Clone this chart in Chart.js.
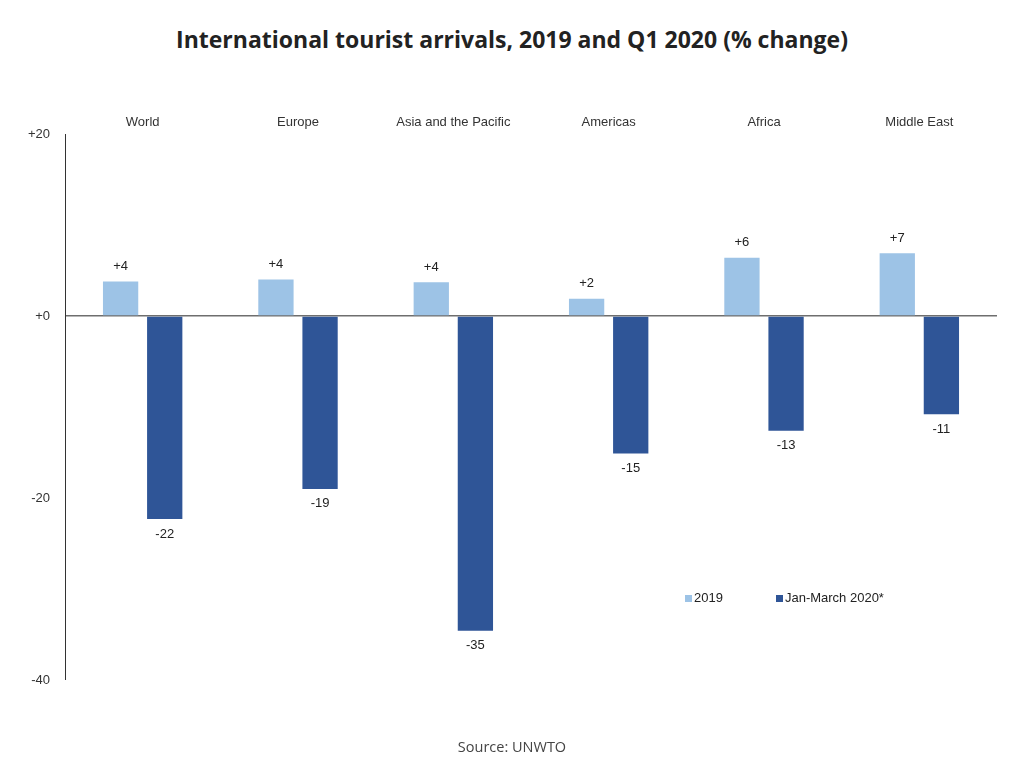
<!DOCTYPE html>
<html>
<head>
<meta charset="utf-8">
<script src="https://cdn.jsdelivr.net/npm/chart.js@4.4.1/dist/chart.umd.min.js"></script>
<style>
  body { margin: 0; background: #fff; }
  #wrap { position: relative; width: 1024px; height: 767px; overflow: hidden; }
  #title {
    position: absolute; left: 0; top: 23px; width: 1024px; text-align: center;
    font-family: "Open Sans", sans-serif; font-weight: bold; font-size: 23px; color: #222;
  }
  #source {
    position: absolute; left: 0; top: 737px; width: 1024px; text-align: center;
    font-family: "Open Sans", sans-serif; font-size: 14.5px; color: #444;
  }
  #legend {
    position: absolute; left: 685px; top: 590px;
    font-family: "Liberation Sans", Arial, sans-serif; font-size: 13px; color: #222;
  }
  #legend span.item { display: inline-block; margin-right: 53px; }
  #legend span.box { display: inline-block; width: 7px; height: 7px; margin-right: 2px; vertical-align: 0px; }
  canvas { position: absolute; left: 0; top: 0; }
</style>
</head>
<body>
<div id="wrap">
  <div id="title">International tourist arrivals, 2019 and Q1 2020 (% change)</div>
  <canvas id="tourismChart" width="1024" height="767"></canvas>
  <div id="legend"></div>
  <div id="source">Source: UNWTO</div>
</div>
<script>
const regions = ["World", "Europe", "Asia and the Pacific", "Americas", "Africa", "Middle East"];
const seriesNames = ["2019", "Jan-March 2020*"];
const values2019 = [3.8, 4.0, 3.7, 1.9, 6.4, 6.9];
const valuesQ1 = [-22.3, -19.0, -34.6, -15.1, -12.6, -10.8];
const yTicks = [20, 0, -20, -40];
const colors = ["#9dc3e6", "#2f5597"];

let legendHtml = "";
seriesNames.forEach((name, i) => {
  legendHtml += `<span class="item"><span class="box" style="background:${colors[i]}"></span>${name}</span>`;
});
document.getElementById("legend").innerHTML = legendHtml;

const fmt = (v) => (v >= 0 ? "+" + Math.round(v) : String(Math.round(v)));

const valueLabels = {
  id: "valueLabels",
  afterDatasetsDraw(chart) {
    const ctx = chart.ctx;
    ctx.save();
    ctx.font = "13px 'Liberation Sans', Arial, sans-serif";
    ctx.fillStyle = "#222";
    ctx.textAlign = "center";
    ctx.textBaseline = "middle";
    chart.data.datasets.forEach((ds, i) => {
      chart.getDatasetMeta(i).data.forEach((bar, j) => {
        const v = ds.data[j];
        const y = v >= 0 ? bar.y - 15 : bar.y + 15;
        ctx.fillText(fmt(v), bar.x, y);
      });
    });
    ctx.restore();
  },
};

new Chart(document.getElementById("tourismChart").getContext("2d"), {
  type: "bar",
  data: {
    labels: regions,
    datasets: [
      { label: seriesNames[0], data: values2019, backgroundColor: colors[0] },
      { label: seriesNames[1], data: valuesQ1, backgroundColor: colors[1] },
    ],
  },
  options: {
    responsive: false,
    animation: false,
    layout: { padding: { top: 104, bottom: 87, left: 0, right: 27 } },
    categoryPercentage: 0.568,
    barPercentage: 0.8,
    plugins: {
      legend: { display: false },
      tooltip: { enabled: false },
    },
    scales: {
      x: {
        position: "top",
        grid: { display: false, drawTicks: false },
        border: { display: false },
        ticks: {
          color: "#333",
          padding: 4,
          font: { family: "'Liberation Sans', Arial, sans-serif", size: 13 },
        },
        afterFit: (scale) => { scale.height = 30; },
      },
      y: {
        min: -40,
        max: 20,
        afterBuildTicks: (scale) => { scale.ticks = yTicks.map((v) => ({ value: v })); },
        grid: {
          drawTicks: false,
          color: (c) => (c.tick && c.tick.value === 0 ? "#6e6e6e" : "rgba(0,0,0,0)"),
          lineWidth: (c) => (c.tick && c.tick.value === 0 ? 1.6 : 0),
        },
        border: { display: true, color: "#333", width: 1 },
        ticks: {
          color: "#333",
          padding: 15,
          font: { family: "'Liberation Sans', Arial, sans-serif", size: 13 },
          callback: (v) => (v >= 0 ? "+" + v : String(v)),
        },
        afterFit: (scale) => { scale.width = 65; },
      },
    },
  },
  plugins: [valueLabels],
});
</script>
</body>
</html>
